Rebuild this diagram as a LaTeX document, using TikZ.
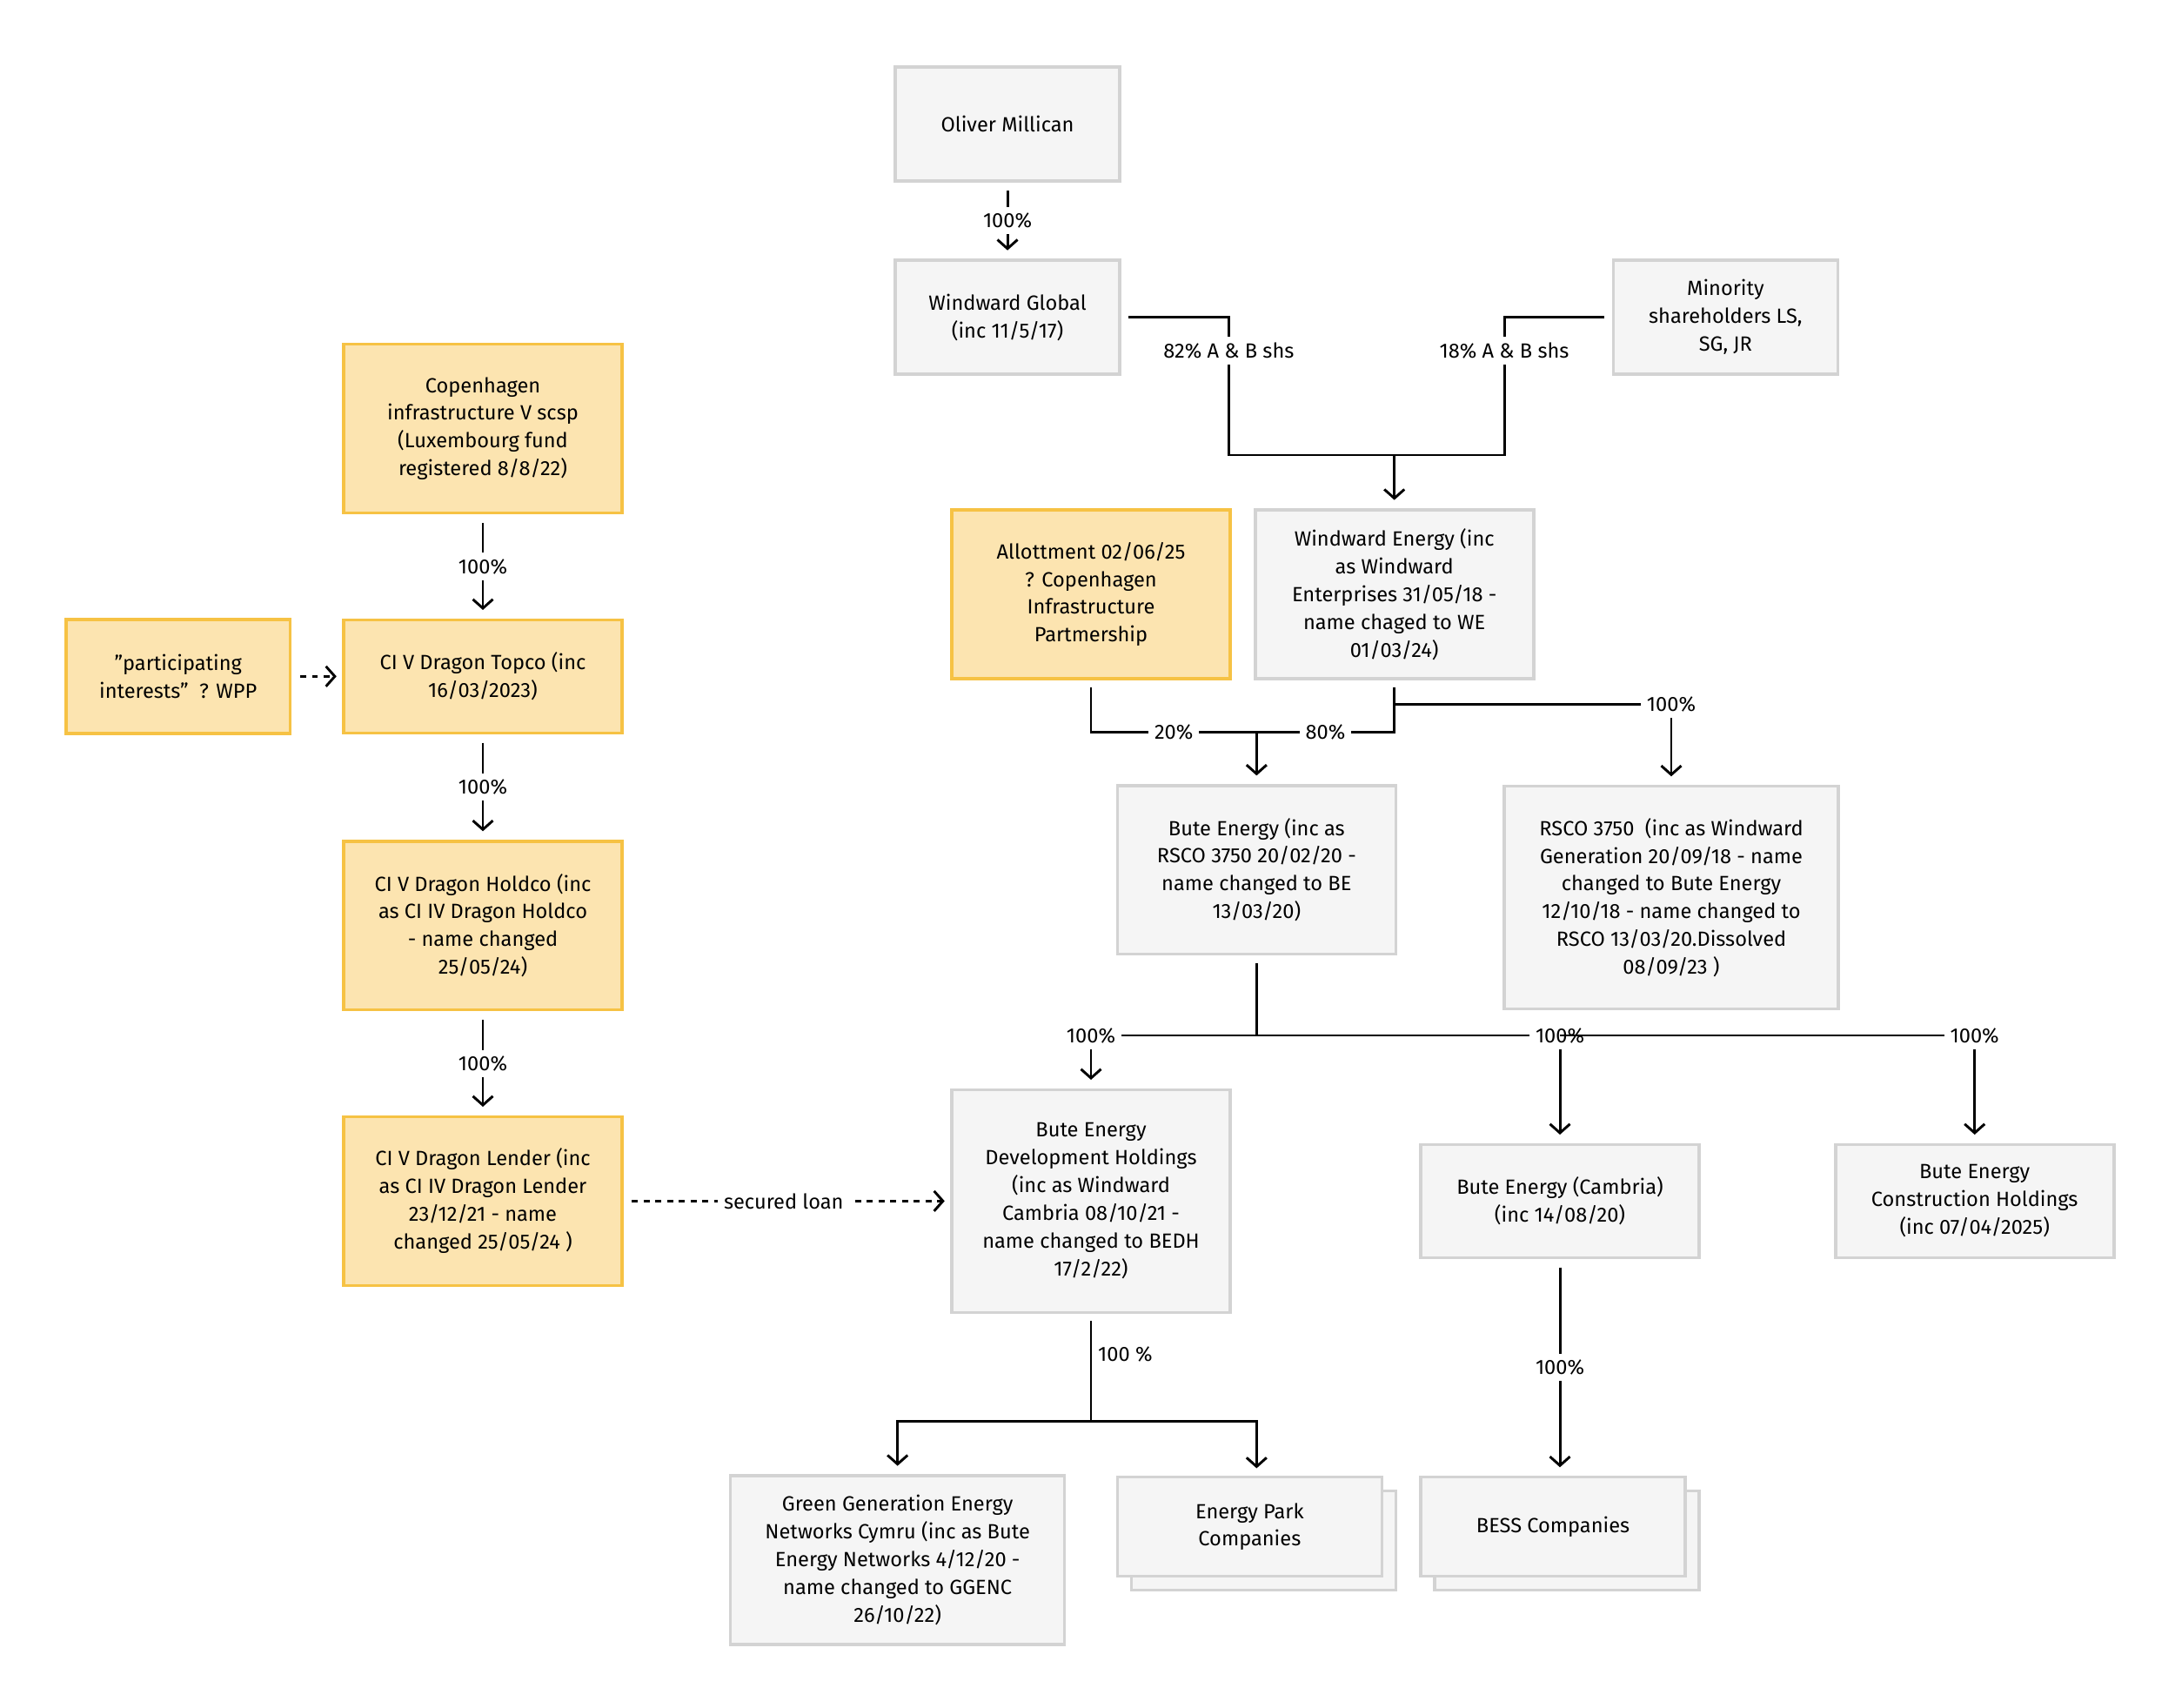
\documentclass[tikz,border=0pt]{standalone}
\usepackage{fontspec}
\setmainfont{Fira Sans}
\usetikzlibrary{arrows.meta}
\definecolor{boxgray}{HTML}{F5F5F5}
\definecolor{boxline}{HTML}{D3D3D3}
\definecolor{ylwfill}{HTML}{FCE4B0}
\definecolor{ylwline}{HTML}{F6C244}
\tikzset{
  box/.style={draw=boxline,fill=boxgray,line width=1.6pt,align=center,
    font=\fontsize{10.5}{14.2}\selectfont,inner sep=2pt},
  ybox/.style={box,draw=ylwline,fill=ylwfill},
  w161/.style={minimum width=4.03cm,minimum height=2.05cm},
  w200/.style={minimum width=5cm,minimum height=3.03cm},
  w240/.style={minimum width=6cm,minimum height=3.03cm},
  link/.style={line width=1.3pt,-{Straight Barb[length=1.6mm,width=3.6mm]}},
  lbl/.style={fill=white,font=\fontsize{10.5}{12}\selectfont,inner sep=3pt}
}
\begin{document}
\begin{tikzpicture}[x=0.025cm,y=-0.025cm]
\useasboundingbox (0,0) rectangle (1563,1227);
% ownership chain
\node (oliver) at (724,89) [box,w161] {Oliver Millican};
\node (wglobal) at (724,228) [box,w161] {Windward Global\\(inc 11/5/17)};
\node (minority) at (1240,228) [box,w161] {Minority\\shareholders LS,\\SG, JR};
\node (copen) at (347,308) [ybox,w200] {Copenhagen\\infrastructure V scsp\\(Luxembourg fund\\registered 8/8/22)};
\node (allot) at (784,427) [ybox,w200] {Allottment 02/06/25\\? Copenhagen\\Infrastructure\\Partmership};
\node (wenergy) at (1002,427) [box,w200] {Windward Energy (inc\\as Windward\\Enterprises 31/05/18 -\\name chaged to WE\\01/03/24)};
\node (partic) at (128,486) [ybox,w161] {"participating\\interests"\ \ ? WPP};
\node (topco) at (347,486) [ybox,w200,minimum height=2.03cm] {CI V Dragon Topco (inc\\16/03/2023)};
\node (bute) at (903,625) [box,w200] {Bute Energy (inc as\\RSCO 3750 20/02/20 -\\name changed to BE\\13/03/20)};
\node (rsco) at (1201,645) [box,minimum width=6cm,minimum height=4cm] {RSCO 3750\ \ (inc as Windward\\Generation 20/09/18 - name\\changed to Bute Energy\\12/10/18 - name changed to\\RSCO 13/03/20.Dissolved\\08/09/23 )};
\node (holdco) at (347,665) [ybox,w200] {CI V Dragon Holdco (inc\\as CI IV Dragon Holdco\\- name changed\\25/05/24)};
\node (lender) at (347,863) [ybox,w200] {CI V Dragon Lender (inc\\as CI IV Dragon Lender\\23/12/21 - name\\changed 25/05/24 )};
\node (bedh) at (784,863) [box,minimum width=5cm,minimum height=4cm] {Bute Energy\\Development Holdings\\(inc as Windward\\Cambria 08/10/21 -\\name changed to BEDH\\17/2/22)};
\node (cambria) at (1121,863) [box,minimum width=5cm,minimum height=2.03cm] {Bute Energy (Cambria)\\(inc 14/08/20)};
\node (constr) at (1419,863) [box,minimum width=5cm,minimum height=2.03cm] {Bute Energy\\Construction Holdings\\(inc 07/04/2025)};
\node (ggenc) at (645,1121) [box,w240] {Green Generation Energy\\Networks Cymru (inc as Bute\\Energy Networks 4/12/20 -\\name changed to GGENC\\26/10/22)};
\node (parkback) at (908,1107) [box,minimum width=4.75cm,minimum height=1.78cm] {};
\node (park) at (898,1097) [box,minimum width=4.75cm,minimum height=1.78cm] {Energy Park\\Companies};
\node (bessback) at (1126,1107) [box,minimum width=4.75cm,minimum height=1.78cm] {};
\node (bess) at (1116,1097) [box,minimum width=4.75cm,minimum height=1.78cm] {BESS Companies};
% junctions
\coordinate (jwg) at (883,327);
\coordinate (jmin) at (1081,327);
\coordinate (jwe) at (1002,327);
\coordinate (jbute) at (903,526);
\coordinate (jsub) at (903,744);
\coordinate (jbedh) at (784,1021);
% connectors
\draw [link,shorten <=0.15cm,shorten >=0.15cm] (oliver) -- node[lbl] {100\%} (wglobal);
\draw [line width=1.3pt] ([xshift=0.13cm]wglobal.east) -| node[lbl,pos=0.62] {82\% A \& B shs} (jwg) -- (jmin)
  |- node[lbl,pos=0.38] {18\% A \& B shs} ([xshift=-0.13cm]minority.west);
\draw [link,shorten >=0.15cm] (jwe) -- (wenergy);
\draw [link,shorten <=0.15cm,shorten >=0.15cm] (copen) -- node[lbl] {100\%} (topco);
\draw [link,dashed,shorten <=0.15cm,shorten >=0.1cm] (partic) -- (topco);
\draw [link,shorten <=0.15cm,shorten >=0.15cm] (topco) -- node[lbl] {100\%} (holdco);
\draw [link,shorten <=0.15cm,shorten >=0.15cm] (holdco) -- node[lbl] {100\%} (lender);
\draw [link,dashed,shorten <=0.15cm,shorten >=0.1cm] (lender) -- node[lbl,pos=0.49] {secured loan} (bedh);
\draw [line width=1.3pt] ([yshift=-0.13cm]allot.south) |- node[lbl,pos=0.75] {20\%} (jbute);
\draw [line width=1.3pt] ([yshift=-0.13cm]wenergy.south) |- node[lbl,pos=0.75] {80\%} (jbute);
\draw [link,shorten >=0.15cm] (jbute) -- (bute);
\draw [link,shorten >=0.15cm] (wenergy.south |- 1002,506) -| node[lbl,pos=0.5] {100\%} (rsco);
\draw [line width=1.3pt] ([yshift=-0.13cm]bute.south) -- (jsub);
\draw [link,shorten >=0.15cm] (jsub) -| node[lbl,pos=0.5] {100\%} (bedh);
\draw [link,shorten >=0.15cm] (jsub) -| node[lbl,pos=0.5] {100\%} (cambria);
\draw [link,shorten >=0.15cm] (1121,744) -| node[lbl,pos=0.5] {100\%} (constr);
\draw [line width=1.3pt] ([yshift=-0.13cm]bedh.south) -- node[lbl,pos=0.33,anchor=west,fill=none] {100 \%} (jbedh);
\draw [link,shorten >=0.15cm] (jbedh) -| (ggenc);
\draw [link,shorten >=0.15cm] (jbedh) -| (903,1061);
\draw [link,shorten <=0.15cm,shorten >=0.15cm] (cambria) -- node[lbl] {100\%} (cambria |- bess.north);
\end{tikzpicture}
\end{document}
